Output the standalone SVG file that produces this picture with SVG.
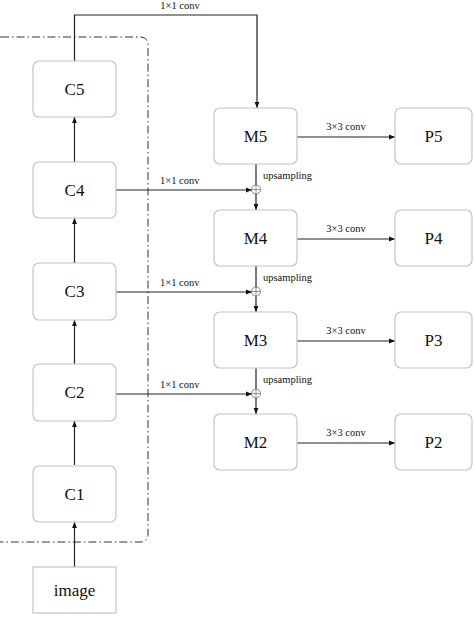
<svg xmlns="http://www.w3.org/2000/svg" width="474" height="638" viewBox="0 0 474 638">
<style>
.box{fill:#fff;stroke:#c4c4c4;stroke-width:1.2}
.nl{font-size:17px;fill:#111;text-anchor:middle}
.el{font-size:10.5px;fill:#111}
.ln{fill:none;stroke:#222;stroke-width:1.2}
</style>
<defs>
<marker id="ah" viewBox="0 0 10 10" refX="10" refY="5" markerWidth="6" markerHeight="6" orient="auto" markerUnits="userSpaceOnUse">
<path d="M0,1 L10,5 L0,9 Z" fill="#111"/>
</marker>
</defs>
<rect x="-6" y="37" width="154" height="505" rx="7" fill="none" stroke="#333" stroke-width="1" stroke-dasharray="8,3,1.5,3"/>
<g font-family="Liberation Serif, Times New Roman, serif">
<g id="connectors">
<path class="ln" d="M74.5,61 V15 H257 V108" marker-end="url(#ah)"/>
<text class="el" x="180" y="9" text-anchor="middle">1×1 conv</text>
<path class="ln" d="M74.5,567 V522" marker-end="url(#ah)"/>
<path class="ln" d="M74.5,465 V421" marker-end="url(#ah)"/>
<path class="ln" d="M74.5,364 V320" marker-end="url(#ah)"/>
<path class="ln" d="M74.5,263 V218" marker-end="url(#ah)"/>
<path class="ln" d="M74.5,162 V117" marker-end="url(#ah)"/>
<path class="ln" d="M116,190 H252" marker-end="url(#ah)"/>
<text class="el" x="160" y="184">1×1 conv</text>
<path class="ln" d="M116,292 H252" marker-end="url(#ah)"/>
<text class="el" x="160" y="286">1×1 conv</text>
<path class="ln" d="M116,394 H252" marker-end="url(#ah)"/>
<text class="el" x="160" y="388">1×1 conv</text>
<path class="ln" d="M256,164 V185"/>
<path class="ln" d="M256,194 V210" marker-end="url(#ah)"/>
<path class="ln" d="M256,266 V287"/>
<path class="ln" d="M256,296 V312" marker-end="url(#ah)"/>
<path class="ln" d="M256,368 V389"/>
<path class="ln" d="M256,398 V414" marker-end="url(#ah)"/>
<circle cx="256" cy="189.5" r="4.5" fill="#fff" stroke="#777" stroke-width="0.9"/>
<path d="M251.5,189.5 H260.5 M256,185 V194" stroke="#777" stroke-width="0.8"/>
<circle cx="256" cy="291.5" r="4.5" fill="#fff" stroke="#777" stroke-width="0.9"/>
<path d="M251.5,291.5 H260.5 M256,287 V296" stroke="#777" stroke-width="0.8"/>
<circle cx="256" cy="393.5" r="4.5" fill="#fff" stroke="#777" stroke-width="0.9"/>
<path d="M251.5,393.5 H260.5 M256,389 V398" stroke="#777" stroke-width="0.8"/>
<text class="el" x="263" y="179">upsampling</text>
<text class="el" x="263" y="281">upsampling</text>
<text class="el" x="263" y="383">upsampling</text>
<path class="ln" d="M297,137 H395" marker-end="url(#ah)"/>
<text class="el" x="346" y="130" text-anchor="middle">3×3 conv</text>
<path class="ln" d="M297,239 H395" marker-end="url(#ah)"/>
<text class="el" x="346" y="232" text-anchor="middle">3×3 conv</text>
<path class="ln" d="M297,341 H395" marker-end="url(#ah)"/>
<text class="el" x="346" y="334" text-anchor="middle">3×3 conv</text>
<path class="ln" d="M297,443 H395" marker-end="url(#ah)"/>
<text class="el" x="346" y="436" text-anchor="middle">3×3 conv</text>
</g>
<g id="C5"><rect class="box" x="33" y="61" width="83" height="56" rx="6"/><text class="nl" x="74.5" y="95">C5</text></g>
<g id="C4"><rect class="box" x="33" y="162" width="83" height="56" rx="6"/><text class="nl" x="74.5" y="196">C4</text></g>
<g id="C3"><rect class="box" x="33" y="263" width="83" height="57" rx="6"/><text class="nl" x="74.5" y="297">C3</text></g>
<g id="C2"><rect class="box" x="33" y="364" width="83" height="57" rx="6"/><text class="nl" x="74.5" y="398">C2</text></g>
<g id="C1"><rect class="box" x="33" y="466" width="83" height="56" rx="6"/><text class="nl" x="74.5" y="500">C1</text></g>
<g id="image"><rect class="box" x="33" y="567" width="83" height="46"/><text class="nl" x="74.5" y="596">image</text></g>
<g id="M5"><rect class="box" x="214" y="108" width="83" height="56" rx="6"/><text class="nl" x="255.5" y="142">M5</text></g>
<g id="M4"><rect class="box" x="214" y="210" width="83" height="56" rx="6"/><text class="nl" x="255.5" y="244">M4</text></g>
<g id="M3"><rect class="box" x="214" y="312" width="83" height="56" rx="6"/><text class="nl" x="255.5" y="346">M3</text></g>
<g id="M2"><rect class="box" x="214" y="414" width="83" height="56" rx="6"/><text class="nl" x="255.5" y="448">M2</text></g>
<g id="P5"><rect class="box" x="395" y="108" width="77" height="56" rx="6"/><text class="nl" x="433.5" y="142">P5</text></g>
<g id="P4"><rect class="box" x="395" y="210" width="77" height="56" rx="6"/><text class="nl" x="433.5" y="244">P4</text></g>
<g id="P3"><rect class="box" x="395" y="312" width="77" height="56" rx="6"/><text class="nl" x="433.5" y="346">P3</text></g>
<g id="P2"><rect class="box" x="395" y="414" width="77" height="56" rx="6"/><text class="nl" x="433.5" y="448">P2</text></g>
</g>
</svg>
